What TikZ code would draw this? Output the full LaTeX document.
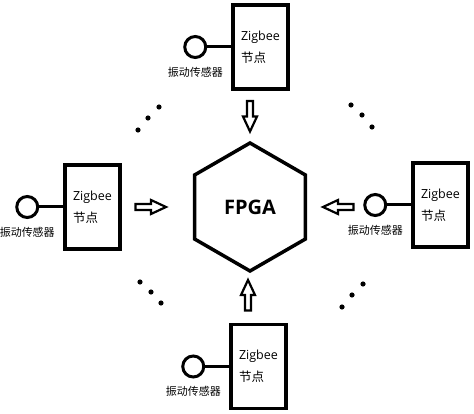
\documentclass[tikz,border=0pt]{standalone}
\usepackage{fontspec}
\setmainfont{Open Sans}
\newfontfamily\cjk{Noto Sans CJK SC}
\usetikzlibrary{positioning,shapes.geometric}

\tikzset{
  zbox/.style={draw, line width=3.5pt, minimum width=55pt, minimum height=84pt,
    align=left, font=\fontsize{12.5}{22}\selectfont},
  sensor/.style={draw, circle, line width=3pt, minimum size=21pt, inner sep=0pt},
  slabel/.style={font=\cjk\fontsize{11}{13}\selectfont, inner sep=1pt},
}
% hollow block arrow: #1 = centre, #2 = direction
\newcommand\holarrow[2]{%
  \draw[line width=2.2pt, line join=miter, shift={#1}, rotate=#2]
    (-15.5,-3) -- (0,-3) -- (0,-7) -- (15,0) -- (0,7) -- (0,3) -- (-15.5,3) -- cycle;}

\begin{document}
\begin{tikzpicture}[x=1pt, y=-1pt]
  \useasboundingbox (0,0) rectangle (474,414);
  % FPGA in the middle
  \node[draw, regular polygon, regular polygon sides=6, shape border rotate=30,
    minimum size=128pt, line width=3.5pt, inner sep=0pt,
    font=\bfseries\fontsize{20}{24}\selectfont] (FPGA) at (250,207) {FPGA};
  % zigbee nodes
  \node[zbox] (ZT) at (260.5,47) {Zigbee\\{\cjk 节点}};
  \node[zbox] (ZL) at (92.5,207) {Zigbee\\{\cjk 节点}};
  \node[zbox] (ZR) at (440.5,205) {Zigbee\\{\cjk 节点}};
  \node[zbox] (ZB) at (258.5,366.5) {Zigbee\\{\cjk 节点}};
  % sensors
  \foreach \z/\s in {ZT/ST, ZL/SL, ZR/SR, ZB/SB}{
    \node[sensor, left=24pt of \z] (\s) {};
    \draw[line width=3pt] (\s) -- (\z);
    \node[slabel, below=7pt of \s] {振动传感器};
  }
  % hollow arrows
  \holarrow{(250,116.5)}{270}
  \holarrow{(151,207)}{0}
  \holarrow{(338,207)}{180}
  \holarrow{(248,295)}{90}
  % dots
  \foreach \p in {(138,130),(148,118),(159,107),(351,105),(362,115),(372,127),
                  (140,282),(151,292),(161,303),(363,284),(352,295),(342,307)}
    \fill \p circle (2.6);
\end{tikzpicture}
\end{document}
